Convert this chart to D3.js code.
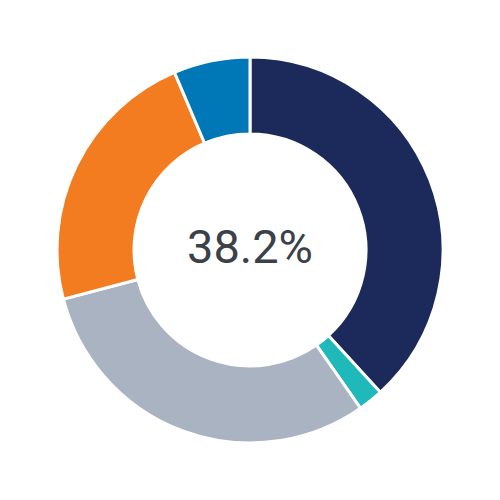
<!DOCTYPE html>
<html>
<head>
<meta charset="utf-8">
<script src="https://cdn.jsdelivr.net/npm/d3@7"></script>
<style>
  body { margin: 0; background: #fff; }
</style>
</head>
<body>
<div id="app"></div>
<script>
const categories = ["A", "B", "C", "D", "E"];
const values = [38.2, 2.1, 30.6, 22.7, 6.4];
const colors = ["#1b2a5a", "#20b9b9", "#a9b3c1", "#f47c20", "#0077b6"];
const centerLabel = "38.2%";

const chart = () => {
  const width = 500;
  const height = 500;
  const outer = 193;
  const inner = 116;

  const svg = d3.create("svg").attr("width", width).attr("height", height);

  const data = categories.map((c, i) => ({ name: c, value: values[i] }));

  const pie = d3.pie().value((d) => d.value).sort(null);
  const arc = d3.arc().innerRadius(inner).outerRadius(outer);

  const g = svg
    .append("g")
    .attr("transform", `translate(${width / 2},${height / 2})`);

  g.selectAll("path")
    .data(pie(data))
    .enter()
    .append("path")
    .attr("d", arc)
    .attr("fill", (d, i) => colors[i])
    .attr("stroke", "#fff")
    .attr("stroke-width", 3);

  g.append("text")
    .text(centerLabel)
    .attr("text-anchor", "middle")
    .attr("y", 13)
    .style("font-family", "Roboto, sans-serif")
    .style("font-size", "47px")
    .style("fill", "#3b4049");

  return svg.node();
};

d3.select("#app").append(chart);
</script>
</body>
</html>
